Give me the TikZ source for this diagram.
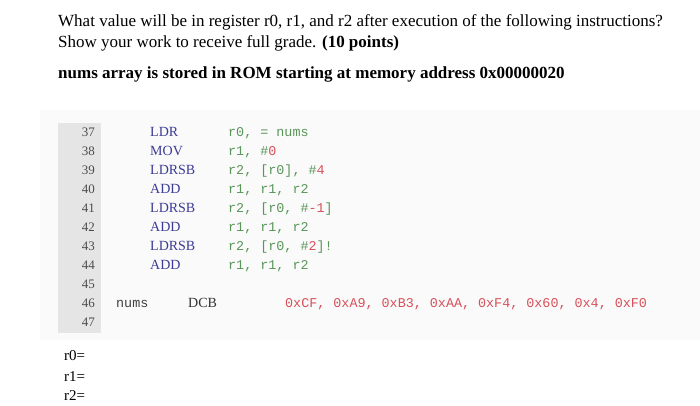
\documentclass[tikz,border=0pt]{standalone}
\usepackage{fontspec}
\setmainfont{Liberation Serif}
\newfontfamily\codefont{Liberation Mono}
\begin{document}
\begin{tikzpicture}[x=1pt,y=-1pt,
  t/.style={anchor=base west,inner sep=0pt,font=\fontsize{17}{19}\selectfont},
  num/.style={anchor=base east,inner sep=0pt,text=black!70,font=\fontsize{13}{14}\selectfont},
  mn/.style={anchor=base west,inner sep=0pt,text={rgb,255:red,60;green,60;blue,150},font=\fontsize{14}{15}\selectfont},
  op/.style={anchor=base west,inner sep=0pt,text={rgb,255:red,90;green,150;blue,90},font=\codefont\fontsize{13.4}{14}\selectfont},
  rd/.style={text={rgb,255:red,215;green,80;blue,90}},
  ans/.style={anchor=base west,inner sep=0pt,font=\fontsize{15}{16}\selectfont}]
\useasboundingbox (0,0) rectangle (700,406);
\fill[white] (0,0) rectangle (700,406);
\fill[black!2] (40,110) rectangle (700,340);
\node[t] (l1) at (58,27) {What value will be in register r0, r1, and r2 after execution of the following instructions?};
\node[t] (l2) at (58,48) {Show your work to receive full grade. \textbf{(10 points)}};
\node[t] (l3) at (58,79) {\textbf{nums array is stored in ROM starting at memory address  0x00000020}};
\fill[black!10] (58,123) rectangle (101,333);
\foreach \n [count=\i from 0] in {37,...,47}
  \node[num] (n\n) at (95,136+19*\i) {\n};
\node[mn] (m1) at (150,136) {LDR};   \node[op] (o1) at (228,136) {r0, = nums};
\node[mn] (m2) at (150,155) {MOV};   \node[op] (o2) at (228,155) {r1, \#\textcolor[RGB]{215,80,90}{0}};
\node[mn] (m3) at (150,174) {LDRSB}; \node[op] (o3) at (228,174) {r2, [r0], \#\textcolor[RGB]{215,80,90}{4}};
\node[mn] (m4) at (150,193) {ADD};   \node[op] (o4) at (228,193) {r1, r1, r2};
\node[mn] (m5) at (150,212) {LDRSB}; \node[op] (o5) at (228,212) {r2, [r0, \#\textcolor[RGB]{215,80,90}{-1}]};
\node[mn] (m6) at (150,231) {ADD};   \node[op] (o6) at (228,231) {r1, r1, r2};
\node[mn] (m7) at (150,250) {LDRSB}; \node[op] (o7) at (228,250) {r2, [r0, \#\textcolor[RGB]{215,80,90}{2}]!};
\node[mn] (m8) at (150,269) {ADD};   \node[op] (o8) at (228,269) {r1, r1, r2};
\node[op,text=black!75] (lab) at (116,307) {nums};
\node[mn,text=black!80] (dcb) at (188,307) {DCB};
\node[op,rd] (vals) at (285,307) {0xCF, 0xA9, 0xB3, 0xAA, 0xF4, 0x60, 0x4, 0xF0};
\node[ans] (a0) at (64,360) {r0=};
\node[ans] (a1) at (64,381) {r1=};
\node[ans] (a2) at (64,400) {r2=};
\end{tikzpicture}
\end{document}
